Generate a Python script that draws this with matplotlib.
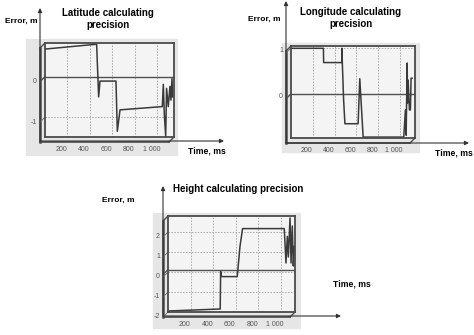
import matplotlib
matplotlib.use('Agg')
import matplotlib.pyplot as plt

# ---- data (time in ms, error in m) ----
lat_t = [0, 459, 477, 489, 631, 643, 667, 1043, 1052, 1061, 1073, 1081, 1096, 1111, 1120, 1129, 1135]
lat_v = [0.68, 0.80, -0.50, -0.11, -0.11, -1.35, -0.82, -0.74, -0.19, -0.94, -1.47, -0.29, -0.74, -0.24, -0.58, -0.05, -0.50]

lon_t = [0, 297, 299, 465, 467, 470, 482, 494, 615, 630, 661, 1033, 1048, 1055, 1064, 1068, 1073, 1085, 1094, 1100, 1109]
lon_v = [0.99, 0.99, 0.68, 0.68, 0.99, 0.68, -0.13, -0.65, -0.65, 0.33, -0.94, -0.94, -0.35, -0.90, 0.67, -0.20, 0.30, -0.35, -0.35, 0.34, 0.34]

hgt_t = [0, 462, 466, 470, 475, 613, 637, 660, 1029, 1044, 1056, 1065, 1080, 1089, 1100, 1109, 1118]
hgt_v = [-1.95, -1.85, 0.03, -0.15, -0.23, -0.23, 1.28, 2.17, 2.17, 0.45, 1.78, 0.75, 2.70, 0.45, 2.30, 0.30, 1.28]

x_ticks = [200, 400, 600, 800, 1000]
x_tick_labels = ['200', '400', '600', '800', '1 000']

W, H = 474, 335
plt.rcParams['font.family'] = ['Liberation Sans', 'DejaVu Sans']
BOLD = dict(fontweight='bold')

fig = plt.figure(figsize=(W / 100, H / 100), dpi=100)
fig.patch.set_facecolor('white')
ov = fig.add_axes([0, 0, 1, 1])
ov.set_xlim(0, W)
ov.set_ylim(H, 0)
ov.axis('off')
ov.set_zorder(0)

EDGE = '#4a4a4a'


def panel(bg, wall, xlim, ylim, t, v, yticks, ytick_labels, zero_y,
          axis_x, axis_y, arrow_top, arrow_right, label_dy=5, label_dx=-6):
    # gray background plate
    bx0, by0, bx1, by1 = bg
    ov.add_patch(plt.Rectangle((bx0, by0), bx1 - bx0, by1 - by0,
                               color='#e6e6e6', zorder=0))
    x0, y0, x1, y1 = wall
    ax = fig.add_axes([x0 / W, 1 - y1 / H, (x1 - x0) / W, (y1 - y0) / H])
    ax.set_facecolor('#f4f4f4')
    ax.set_xlim(*xlim)
    ax.set_ylim(*ylim)
    for s in ax.spines.values():
        s.set_color(EDGE)
        s.set_linewidth(1.3)
    ax.set_xticks(x_ticks)
    ax.set_yticks(yticks)
    ax.tick_params(length=0, labelbottom=False, labelleft=False)
    ax.grid(True, color='#a8a8a8', linestyle=(0, (1.5, 1.5)), linewidth=0.7)
    ax.axhline(zero_y, color='#505050', linewidth=1.0)
    ax.plot(t, v, color='#3a3a3a', linewidth=1.1)
    ax.set_zorder(2)

    # pixel helpers
    def px(xv):
        return x0 + (xv - xlim[0]) / (xlim[1] - xlim[0]) * (x1 - x0)

    def py(yv):
        return y1 - (yv - ylim[0]) / (ylim[1] - ylim[0]) * (y1 - y0)

    d = 5
    # front frame of the 3D box
    ov.plot([x0 - d, x0 - d], [y0 + d, y1 + d], color=EDGE, lw=1.8, zorder=3)
    ov.plot([x0 - d, x0], [y0 + d, y0], color=EDGE, lw=1.0, zorder=3)
    ov.plot([x0 - d, x1 - d], [y1 + d, y1 + d], color=EDGE, lw=1.2, zorder=3)
    ov.plot([x1 - d, x1], [y1 + d, y1], color=EDGE, lw=1.0, zorder=3)
    for yv in yticks:
        ov.plot([x0 - d, x0], [py(yv) + d, py(yv)], color='#777777', lw=0.7, zorder=3)
    ov.plot([x0 - d, x0], [py(zero_y) + d, py(zero_y)], color='#505050', lw=0.9, zorder=3)

    # axis arrows
    ov.annotate('', xy=(axis_x, arrow_top), xytext=(axis_x, axis_y),
                arrowprops=dict(arrowstyle='-|>', color='#333333', lw=0.8,
                                mutation_scale=6, shrinkA=0, shrinkB=0), zorder=4)
    ov.annotate('', xy=(arrow_right, axis_y), xytext=(axis_x, axis_y),
                arrowprops=dict(arrowstyle='-|>', color='#333333', lw=0.8,
                                mutation_scale=6, shrinkA=0, shrinkB=0), zorder=4)

    # tick labels drawn at the front face
    for xv, lab in zip(x_ticks, x_tick_labels):
        ov.text(px(xv) + label_dx, y1 + d + 7.5, lab, fontsize=5, color='#555555',
                ha='center', va='center', zorder=4)
    for yv, lab in zip(yticks, ytick_labels):
        ov.text(x0 - d - 3, py(yv) + label_dy, lab, fontsize=5, color='#555555',
                ha='right', va='center', zorder=4)


# Latitude
panel(bg=(26, 39, 177, 155), wall=(45, 43, 174, 137), xlim=(0, 1147), ylim=(-1.49, 0.83),
      t=lat_t, v=lat_v, yticks=[0, -1], ytick_labels=['0', '-1'], zero_y=0,
      axis_x=40, axis_y=141, arrow_top=8, arrow_right=224)
ov.text(108, 19, 'Latitude calculating\nprecision', fontsize=7, ha='center', va='center',
        linespacing=1.25, **BOLD)
ov.text(5, 21, 'Error, m', fontsize=6, ha='left', va='center', **BOLD)
ov.text(188, 151, 'Time, ms', fontsize=6.2, ha='left', va='center', **BOLD)

# Longitude
panel(bg=(282, 43, 419, 152), wall=(291, 46, 415, 138), xlim=(0, 1136), ylim=(-0.96, 1.04),
      t=lon_t, v=lon_v, yticks=[1, 0], ytick_labels=['1', '0'], zero_y=0,
      axis_x=286, axis_y=143, arrow_top=1, arrow_right=469, label_dy=3)
ov.text(351, 18, 'Longitude calculating\nprecision', fontsize=7, ha='center', va='center',
        linespacing=1.25, **BOLD)
ov.text(248, 19, 'Error, m', fontsize=6, ha='left', va='center', **BOLD)
ov.text(435, 153, 'Time, ms', fontsize=6.2, ha='left', va='center', **BOLD)

# Height
panel(bg=(153, 213, 300, 328), wall=(168, 216, 295, 312), xlim=(0, 1124), ylim=(-2.0, 2.8),
      t=hgt_t, v=hgt_v, yticks=[2, 1, 0, -1, -2], ytick_labels=['2', '1', '0', '-1', '-2'],
      zero_y=0.12, axis_x=163, axis_y=316, arrow_top=186, arrow_right=341, label_dy=5)
ov.text(238, 189, 'Height calculating precision', fontsize=7, ha='center', va='center', **BOLD)
ov.text(102, 200, 'Error, m', fontsize=6, ha='left', va='center', **BOLD)
ov.text(333, 284, 'Time, ms', fontsize=6.2, ha='left', va='center', **BOLD)

plt.savefig('out.png', dpi=100)
plt.close(fig)
